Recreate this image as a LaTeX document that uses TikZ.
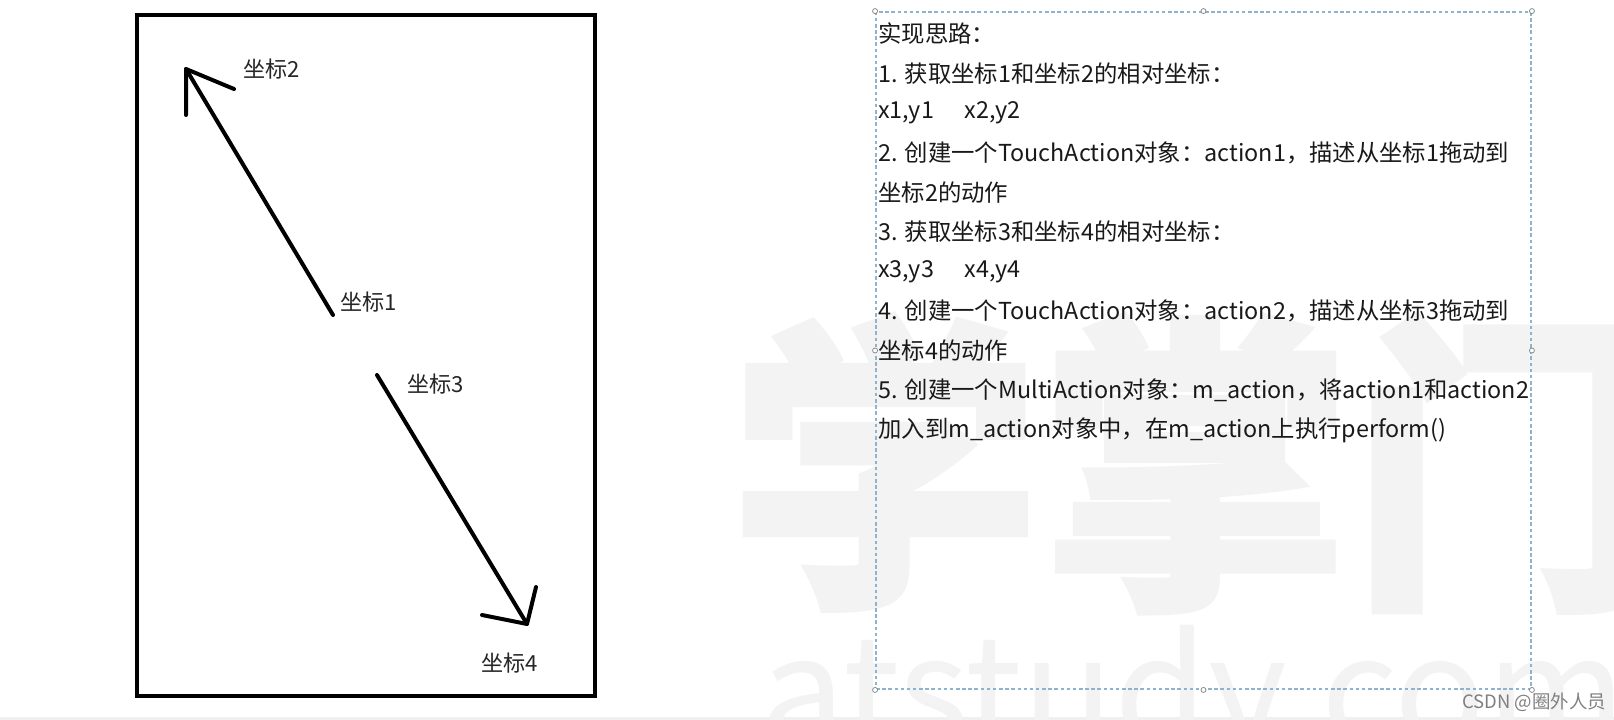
\documentclass[tikz,border=0pt]{standalone}
\usepackage{fontspec}
\setmainfont{Noto Sans CJK SC}
\newfontfamily\wmfont[FakeBold=1.5]{Noto Sans CJK SC}
\usepackage{tikz}
\usepackage{xcolor}
\usetikzlibrary{calc}

\definecolor{boxline}{HTML}{8DB4CC}
\definecolor{wmark}{HTML}{F3F3F3}

\begin{document}
\begin{tikzpicture}[x=0.02cm,y=-0.02cm,
    lbl/.style={anchor=west,inner sep=0pt,font=\fontsize{12.6}{14}\selectfont,text=black!85},
    txt/.style={anchor=west,inner sep=0pt,font=\fontsize{13.3}{15}\selectfont,text=black!90},
    drag/.style={line width=0.08cm,line cap=round,line join=round},
    handle/.style={circle,draw=gray,fill=white,line width=0.4pt,inner sep=0pt,minimum size=0.1cm},
    wm/.style={text=wmark,inner sep=0pt,anchor=base west}]
        \useasboundingbox (0,0) rectangle (1614,720);
        \fill[white] (0,0) rectangle (1614,720);
        \fill[gray!12] (0,717) rectangle (1614,720);
        % watermark
        \node[wm,font=\wmfont\bfseries\fontsize{177}{177}\selectfont] (wm1) at (729,583) {学掌门};
        \node[wm,font=\fontsize{86}{86}\selectfont] (wm2) at (760,745) {atstudy.com};

        % left: the screen with the two drags
        \node[draw,line width=0.09cm,minimum width=9.16cm,minimum height=13.62cm] (screen) at (366,355.5) {};
        \coordinate (p1) at (333,315);
        \coordinate (p2) at (186,69);
        \coordinate (p3) at (377,375);
        \coordinate (p4) at (527,624);
        \draw[drag] (p1) -- (p2);
        \draw[drag] ($(p2)+(0,46)$) -- (p2) -- ($(p2)+(48,20)$);
        \draw[drag] (p3) -- (p4);
        \draw[drag] ($(p4)+(9,-37)$) -- (p4) -- ($(p4)+(-45,-9)$);
        \node[lbl] (c2) at (243,69) {坐标2};
        \node[lbl] (c1) at (340,302) {坐标1};
        \node[lbl] (c3) at (407,384) {坐标3};
        \node[lbl] (c4) at (481,663) {坐标4};

        % right: the text box
        \node[draw=boxline,line width=0.04cm,dash pattern=on 2pt off 1.5pt,minimum width=13.1cm,minimum height=13.54cm] (box) at (1203.5,350.5) {};
        \foreach \a in {north west,north,north east,east,south east,south,south west,west}
            \node[handle] at (box.\a) {};
        \foreach \t [count=\i from 0] in {{实现思路：},
            {1. 获取坐标1和坐标2的相对坐标：},
            {x1,y1\hspace{1.3em}x2,y2},
            {2. 创建一个TouchAction对象：action1，描述从坐标1拖动到},
            {坐标2的动作},
            {3. 获取坐标3和坐标4的相对坐标：},
            {x3,y3\hspace{1.3em}x4,y4},
            {4. 创建一个TouchAction对象：action2，描述从坐标3拖动到},
            {坐标4的动作},
            {5. 创建一个MultiAction对象：m\_action，将action1和action2},
            {加入到m\_action对象中，在m\_action上执行perform()}}
            \node[txt] (l\i) at (878,{34+39.6*\i}) {\t};

        \node[anchor=west,inner sep=0pt,text=gray,font=\fontsize{10.5}{12}\selectfont] (csdn) at (1462,702) {CSDN @圈外人员};
    \end{tikzpicture}
\end{document}
